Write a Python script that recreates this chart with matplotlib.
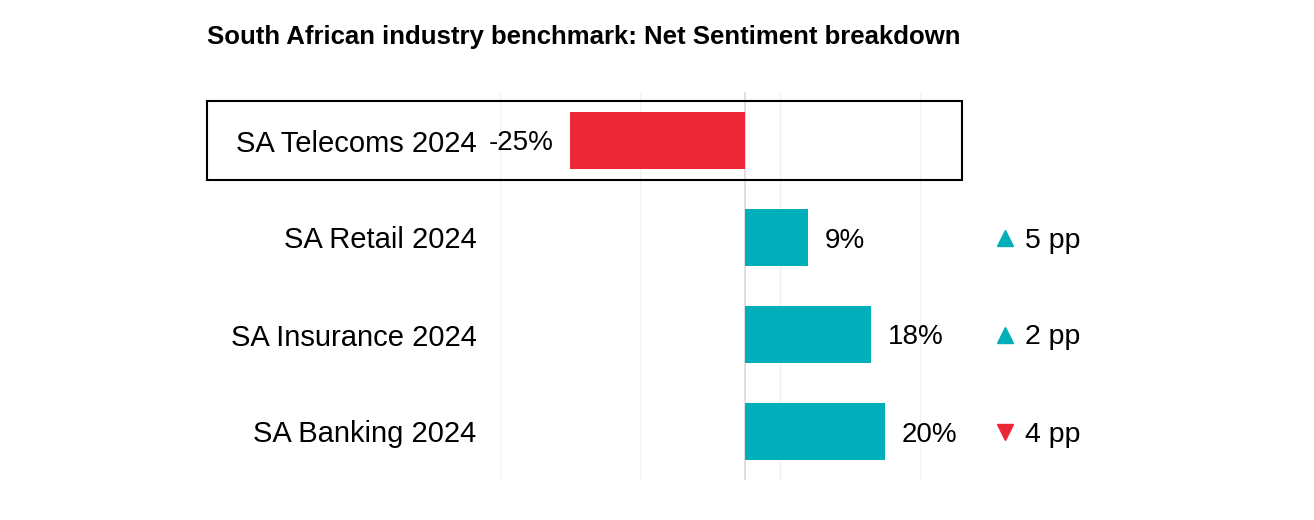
import numpy as np
import matplotlib.pyplot as plt
from matplotlib.patches import Rectangle
import matplotlib.transforms as mtransforms

plt.rcParams['font.family'] = ['Liberation Sans', 'DejaVu Sans']

# Data
categories = ['SA Telecoms 2024', 'SA Retail 2024', 'SA Insurance 2024', 'SA Banking 2024']
net_sentiment = [-25, 9, 18, 20]
change_pp = [None, 5, 2, -4]

red = '#EE2737'
teal = '#00AFB9'

fig = plt.figure(figsize=(13.14, 5.2), dpi=100)
ax = fig.add_axes([500 / 1314, 40 / 520, 560 / 1314, 388 / 520])

y = np.arange(len(categories))
colors = [red if v < 0 else teal for v in net_sentiment]
ax.barh(y, net_sentiment, height=0.58, color=colors, zorder=2)

# value labels next to bars
for yi, v in zip(y, net_sentiment):
    if v < 0:
        ax.text(v - 2.4, yi, f'{v}%', ha='right', va='center_baseline', fontsize=20)
    else:
        ax.text(v + 2.4, yi, f'{v}%', ha='left', va='center_baseline', fontsize=20)

# change vs previous period, in a column on the right
trans = mtransforms.blended_transform_factory(ax.transAxes, ax.transData)
for yi, c in zip(y, change_pp):
    if c is None:
        continue
    marker = '^' if c > 0 else 'v'
    col = teal if c > 0 else red
    ax.plot(0.902, yi, marker=marker, color=col, markersize=12,
            transform=trans, clip_on=False, linestyle='none')
    ax.text(0.937, yi, f'{abs(c)} pp', transform=trans, ha='left',
            va='center_baseline', fontsize=20.5)

ax.set_xlim(-35, 45)
ax.set_ylim(len(categories) - 0.5, -0.5)
ax.set_xticks([-35, -15, 5, 25])
ax.xaxis.grid(True, color='#F2F2F2', linewidth=1, zorder=0)
ax.axvline(0, color='#D9D9D9', linewidth=1.2, zorder=1)
ax.set_xticklabels([])
ax.tick_params(axis='x', length=0)

ax.set_yticks(y)
ax.set_yticklabels(categories, fontsize=21)
ax.tick_params(axis='y', length=0, pad=17)

for s in ax.spines.values():
    s.set_visible(False)

# outline around the highlighted row
fig.patches.append(Rectangle((207 / 1314, (520 - 180) / 520), 755 / 1314, 79 / 520,
                             transform=fig.transFigure, fill=False,
                             edgecolor='black', linewidth=1.5))

fig.text(207 / 1314, 1 - 37 / 520, 'South African industry benchmark: Net Sentiment breakdown',
         fontsize=18.5, fontweight='bold', ha='left', va='center')

fig.savefig('out.png', dpi=100)
